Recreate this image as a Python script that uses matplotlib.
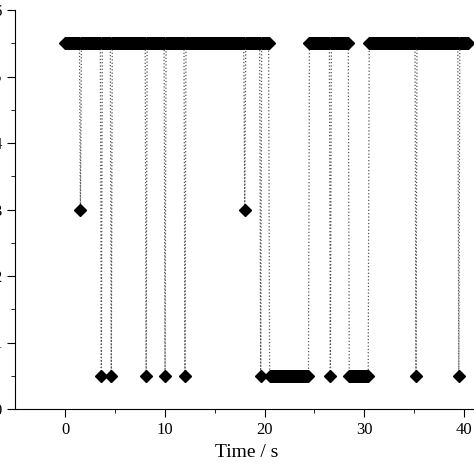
import numpy as np
import matplotlib
matplotlib.use("Agg")
import matplotlib.pyplot as plt

plt.rcParams['font.family'] = ['Liberation Serif', 'DejaVu Serif']

# step signal: segments (start, end, level) and isolated dips (time, level)
seg_start = [0.0, 20.5, 24.5, 28.5, 30.5]
seg_end   = [20.4, 24.4, 28.4, 30.4, 40.4]
seg_level = [5.5, 0.5, 5.5, 0.5, 5.5]
dip_time  = [1.5, 3.6, 4.6, 8.1, 10.0, 12.0, 18.0, 19.6, 26.6, 35.2, 39.5]
dip_level = [3.0, 0.5, 0.5, 0.5, 0.5, 0.5, 3.0, 0.5, 0.5, 0.5, 0.5]

dt = 0.1
t = np.round(np.arange(0, 40.45, dt), 2)
y = np.full(t.shape, np.nan)
for s, e, l in zip(seg_start, seg_end, seg_level):
    y[(t >= s - 1e-6) & (t <= e + 1e-6)] = l
for dtm, l in zip(dip_time, dip_level):
    y[np.argmin(np.abs(t - dtm))] = l

fig = plt.figure(figsize=(4.74, 4.74), dpi=100)
ax = fig.add_axes([15/474, 1 - 409/474, 1 - 15/474 + 0.01, (409 - 10)/474])
ax.plot(t, y, color='#555555', linestyle=':', linewidth=0.9, marker='D',
        markersize=6, markerfacecolor='black', markeredgecolor='black')
ax.set_xlim(-5.07, 41.5)
ax.set_ylim(0, 6)
ax.set_xticks([0, 10, 20, 30, 40])
ax.set_yticks([0, 1, 2, 3, 4, 5, 6])
ax.set_yticks(np.arange(0.5, 6, 1), minor=True)
ax.set_xticks(np.arange(5, 41, 10), minor=True)
ax.spines['top'].set_visible(False)
ax.spines['right'].set_visible(False)
ax.tick_params(axis='both', direction='out', labelsize=12, length=6)
ax.tick_params(which='minor', length=3)
ax.set_xlabel('Time / s', fontsize=14)
fig.savefig('out.png', dpi=100)
